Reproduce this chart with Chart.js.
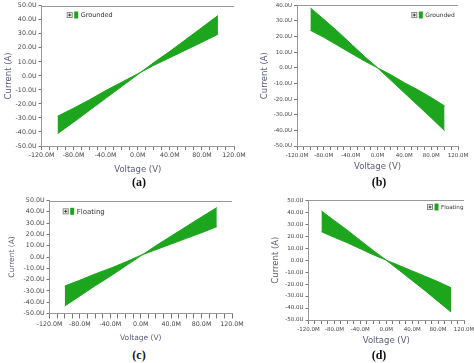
<!DOCTYPE html>
<html>
<head>
<meta charset="utf-8">
<script src="https://cdn.jsdelivr.net/npm/chart.js@4.4.1/dist/chart.umd.min.js"></script>
<style>
  body { margin: 0; background: #fff; width: 474px; height: 363px; position: relative; overflow: hidden; }
  canvas { position: absolute; }
  .cap { position: absolute; font: bold 12px "Liberation Serif", serif; color: #111; transform: translate(-50%, -50%); }
</style>
</head>
<body>
<canvas id="ca" width="250" height="176" style="left:0;top:0"></canvas>
<canvas id="cb" width="250" height="173" style="left:237px;top:0"></canvas>
<canvas id="cc" width="250" height="163" style="left:0;top:181px"></canvas>
<canvas id="cd" width="250" height="166" style="left:237px;top:181px"></canvas>
<div class="cap" style="left:139px;top:182px">(a)</div>
<div class="cap" style="left:379px;top:182px">(b)</div>
<div class="cap" style="left:139px;top:355px">(c)</div>
<div class="cap" style="left:379px;top:355px">(d)</div>
<script>
// sweep voltage (M) and the two edges of each current band (U)
const voltage = [-100, -80, -60, -40, -20, 0, 20, 40, 60, 80, 100];

const groundedA_steep   = [-41.2, -33, -24.5, -16, -7.5, 1, 9.5, 17.5, 26, 34.5, 43];
const groundedA_shallow = [-28.8, -23, -17, -10.5, -4.5, 1.5, 7.5, 13, 18.5, 24, 29.7];

const groundedB_steep   = [38.3, 31, 23.5, 15.5, 7.5, 0, -8, -16, -24, -32, -40.2];
const groundedB_shallow = [24, 19.5, 14.5, 9.5, 4.5, 0, -4.5, -9.5, -14, -19, -24.4];

const floatingC_steep   = [-43.4, -34.5, -25.5, -17, -8, 1, 10, 18.5, 27, 35.5, 43.7];
const floatingC_shallow = [-25.7, -20.5, -15, -10, -4.5, 1.5, 6.5, 11.5, 16.5, 21.5, 26.8];

const floatingD_steep   = [41.1, 33, 25, 16.5, 8, 0, -8.5, -17, -25.5, -34.5, -43.3];
const floatingD_shallow = [23.8, 19, 14.5, 9.5, 4.5, 0, -4.5, -9, -13.5, -18, -23];

// labelled x ticks; minor ticks every 10M in between
const xLabelled = [-120, -80, -40, 0, 40, 80, 120];

const GREEN = '#1ea51e';
const FONT = 'DejaVu Sans';

const frame = {
  id: 'frame',
  afterDraw(chart, args, opts) {
    const ctx = chart.ctx, a = chart.chartArea;
    ctx.save();
    // top border
    ctx.strokeStyle = '#999';
    ctx.lineWidth = 1;
    ctx.beginPath();
    ctx.moveTo(a.left, Math.round(a.top) + 0.5);
    ctx.lineTo(a.right, Math.round(a.top) + 0.5);
    ctx.stroke();
    // legend: [+] box, green swatch, label
    const x = opts.x, y = opts.y;
    ctx.fillStyle = '#fff';
    ctx.fillRect(x, y - 2.5, 5, 5);
    ctx.strokeStyle = '#888';
    ctx.strokeRect(x + 0.5, y - 2.5, 5, 5);
    ctx.strokeStyle = '#333';
    ctx.beginPath();
    ctx.moveTo(x + 1.5, y); ctx.lineTo(x + 4.5, y);
    ctx.moveTo(x + 3, y - 1.5); ctx.lineTo(x + 3, y + 1.5);
    ctx.stroke();
    ctx.fillStyle = GREEN;
    ctx.fillRect(x + 7.5, y - 3.5, 4, 7);
    ctx.fillStyle = '#333';
    ctx.font = opts.size + 'px "' + FONT + '"';
    ctx.textBaseline = 'middle';
    ctx.fillText(opts.text, x + 14, y + 0.5);
    ctx.restore();
  }
};

function makeChart(id, steep, shallow, spec) {
  const canvas = document.getElementById(id);
  const lh = spec.titleSize * 1.2;
  const padLeft = spec.yTitleX - lh / 2;
  const boxBottom = spec.xTitleY + lh / 2;
  return new Chart(canvas, {
    type: 'line',
    data: {
      datasets: [
        {
          data: voltage.map((v, i) => ({ x: v, y: steep[i] })),
          borderColor: GREEN, borderWidth: 1, pointRadius: 0, fill: false
        },
        {
          data: voltage.map((v, i) => ({ x: v, y: shallow[i] })),
          borderColor: GREEN, borderWidth: 1, pointRadius: 0,
          backgroundColor: GREEN, fill: '-1'
        }
      ]
    },
    options: {
      responsive: false,
      animation: false,
      layout: {
        padding: {
          left: padLeft,
          top: spec.area.T,
          right: canvas.width - spec.area.R,
          bottom: canvas.height - boxBottom
        }
      },
      plugins: {
        legend: { display: false },
        tooltip: { enabled: false },
        frame: { x: spec.legend.x, y: spec.legend.y, size: spec.legend.size, text: spec.legend.text }
      },
      scales: {
        x: {
          type: 'linear', min: -120, max: 120,
          afterBuildTicks: s => {
            const t = [];
            for (let v = -120; v <= 120; v += 10) t.push({ value: v });
            s.ticks = t;
          },
          afterFit: s => { s.height = boxBottom - spec.area.B; },
          border: { color: '#999' },
          grid: { drawOnChartArea: false, tickLength: spec.xTickLen, color: '#777' },
          ticks: {
            autoSkip: false, maxRotation: 0, padding: 2,
            color: '#444', font: { family: FONT, size: spec.tickSize },
            callback: v => xLabelled.includes(v) ? v.toFixed(1) + 'M' : ''
          },
          title: {
            display: true, text: 'Voltage (V)', padding: 0, color: '#5a5a78',
            font: { family: FONT, size: spec.titleSize }
          }
        },
        y: {
          min: -50, max: spec.yMax,
          afterFit: s => { s.width = spec.area.L - padLeft; },
          border: { color: '#999' },
          grid: { drawOnChartArea: false, tickLength: 3, color: '#777' },
          ticks: {
            stepSize: 10, padding: 2,
            color: '#444', font: { family: FONT, size: spec.tickSize },
            callback: v => v.toFixed(1) + 'U'
          },
          title: {
            display: true, text: 'Current (A)', padding: 0, color: '#5a5a78',
            font: { family: FONT, size: spec.titleSize }
          }
        }
      }
    },
    plugins: [frame]
  });
}

const charts = [
  makeChart('cd', floatingD_steep, floatingD_shallow, {
    area: { L: 71.5, T: 19.3, R: 227, B: 139 }, yTitleX: 39, xTitleY: 160,
    titleSize: 8.5, tickSize: 5.5, xTickLen: 4, yMax: 50,
    legend: { x: 190, y: 26, size: 5.6, text: 'Floating' }
  }),
  makeChart('cc', floatingC_steep, floatingC_shallow, {
    area: { L: 49.5, T: 19.5, R: 232, B: 132.5 }, yTitleX: 12, xTitleY: 157,
    titleSize: 7.5, tickSize: 6.3, xTickLen: 5, yMax: 50,
    legend: { x: 62.7, y: 30.3, size: 7, text: 'Floating' }
  }),
  makeChart('cb', groundedB_steep, groundedB_shallow, {
    area: { L: 60, T: 3.3, R: 221, B: 146 }, yTitleX: 28, xTitleY: 167,
    titleSize: 8.5, tickSize: 5.5, xTickLen: 4, yMax: 40,
    legend: { x: 174.3, y: 15, size: 6, text: 'Grounded' }
  }),
  makeChart('ca', groundedA_steep, groundedA_shallow, {
    area: { L: 41.5, T: 3.4, R: 234, B: 146 }, yTitleX: 9, xTitleY: 170,
    titleSize: 8.5, tickSize: 6.3, xTickLen: 4, yMax: 50,
    legend: { x: 66.7, y: 15, size: 6.5, text: 'Grounded' }
  })
];
charts.forEach(c => c.update());
</script>
</body>
</html>
